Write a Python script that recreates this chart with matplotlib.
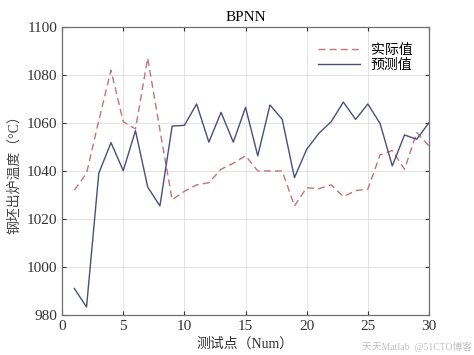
import matplotlib
matplotlib.use("Agg")
import matplotlib.pyplot as plt

# test points and temperatures
test_points = list(range(1, 31))
actual = [1032, 1039, 1061, 1082, 1060.5, 1057.5, 1087, 1057, 1028, 1031.5,
          1034.2, 1035.1, 1040.7, 1043.2, 1046.3, 1040, 1040, 1040, 1025.4, 1033,
          1032.6, 1034.2, 1029.3, 1031.8, 1032.4, 1046.7, 1048.5, 1040.7, 1056, 1050.4]
predicted = [991, 983.3, 1039, 1051.8, 1040.1, 1056.8, 1033.3, 1025.4, 1058.7, 1059,
             1067.9, 1052, 1064.4, 1052, 1066.5, 1046.3, 1067.5, 1061.5, 1037.2, 1049,
             1055.7, 1060.5, 1068.7, 1061.5, 1067.9, 1059.8, 1042.1, 1055, 1053.2, 1060.1]

x_ticks = [0, 5, 10, 15, 20, 25, 30]
y_ticks = [980, 1000, 1020, 1040, 1060, 1080, 1100]

fonts = ['Liberation Serif', 'Noto Sans CJK SC', 'DejaVu Sans']
plt.rcParams['font.family'] = fonts

fig = plt.figure(figsize=(4.74, 3.55), dpi=100)
ax = fig.add_axes([0.131, 0.113, 0.774, 0.811])

ax.plot(test_points, actual, linestyle=(0, (5, 3)), color='#c4727e',
        linewidth=1.0, label='实际值')
ax.plot(test_points, predicted, linestyle='-', color='#4a4e7c',
        linewidth=1.0, label='预测值')

ax.set_xlim(0, 30)
ax.set_ylim(980, 1100)
ax.set_xticks(x_ticks)
ax.set_yticks(y_ticks)
ax.grid(True, color='#e3e3e3', linewidth=0.7)
ax.set_axisbelow(True)
ax.tick_params(direction='in', length=3, labelsize=11, colors='#333333',
               top=True, right=True, labeltop=False, labelright=False)
for s in ax.spines.values():
    s.set_color('#707070')
    s.set_linewidth(0.9)

ax.set_title('BPNN', fontsize=11, pad=4)
ax.set_xlabel('测试点（Num）', fontsize=10, color='#333333', labelpad=3)
ax.set_ylabel('钢坯出炉温度（°C）', fontsize=10, color='#444444', labelpad=4)

leg = ax.legend(loc='upper right', frameon=False, fontsize=10,
                handlelength=3.0, borderaxespad=0.8, labelspacing=0.15)

# watermark, kept clear of the tick labels
fig.text(0.995, 0.008, '天天Matlab  @51CTO博客', fontsize=7, color='#c0c0c0',
         ha='right', va='bottom')

fig.savefig('out.png', dpi=100)
